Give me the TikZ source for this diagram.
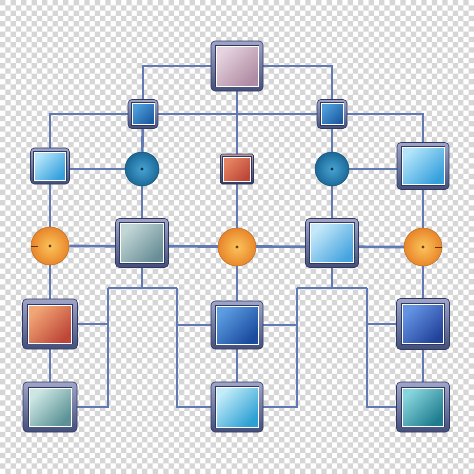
\documentclass[tikz,border=0pt]{standalone}
\pgfdeclarelayer{checker}
\pgfdeclarelayer{wires}
\pgfsetlayers{checker,wires,main}
\definecolor{wire}{RGB}{98,122,180}
\definecolor{chk}{RGB}{214,214,214}
\definecolor{frameL}{RGB}{160,165,200}
\definecolor{frameD}{RGB}{66,78,122}
\definecolor{edge}{RGB}{46,56,96}
\definecolor{Tl}{HTML}{E6D3DF}\definecolor{Td}{HTML}{B08CA4}
\definecolor{Sl}{HTML}{4E9EDA}\definecolor{Sd}{HTML}{1D5CA3}
\definecolor{Al}{HTML}{B2E4FA}\definecolor{Ad}{HTML}{35A0DC}
\definecolor{Rl}{HTML}{E68462}\definecolor{Rd}{HTML}{BD4637}
\definecolor{Bl}{HTML}{C2D6D6}\definecolor{Bd}{HTML}{678E96}
\definecolor{Fl}{HTML}{C4E8F9}\definecolor{Fd}{HTML}{45A4E0}
\definecolor{Dl}{HTML}{F2A675}\definecolor{Dd}{HTML}{BE4638}
\definecolor{Gl}{HTML}{5C9CE2}\definecolor{Gd}{HTML}{1A4B9E}
\definecolor{Hl}{HTML}{6493E4}\definecolor{Hd}{HTML}{22429A}
\definecolor{Il}{HTML}{CDE8E4}\definecolor{Id}{HTML}{5C9296}
\definecolor{Jl}{HTML}{C2ECF9}\definecolor{Jd}{HTML}{2CA0D4}
\definecolor{Kl}{HTML}{86D4DC}\definecolor{Kd}{HTML}{1D7C8E}
\definecolor{ob}{HTML}{FBC45C}\definecolor{oo}{HTML}{E8862A}
\definecolor{bb}{HTML}{46A4D2}\definecolor{bo}{HTML}{1B6898}
\tikzset{
  dev/.style n args={5}{draw=edge, line width=0.6pt, rounded corners=4pt,
    minimum width=#1, minimum height=#2, inner sep=0pt,
    top color=frameL, bottom color=frameD,
    path picture={
      \fill[edge, sharp corners]
        ([shift={(#3-1.2,-#3+1.2)}]path picture bounding box.north west) rectangle
        ([shift={(-#3+1.2,#3-1.2)}]path picture bounding box.south east);
      \path[sharp corners, top color=#4, bottom color=#5, shading angle=45, draw=white, line width=0.7pt]
        ([shift={(#3,-#3)}]path picture bounding box.north west) rectangle
        ([shift={(-#3,#3)}]path picture bounding box.south east);
    }},
  ballnode/.style n args={3}{circle, minimum size=#1, inner sep=0pt,
    draw=#3!80!black, line width=0.5pt, inner color=#2, outer color=#3,
    path picture={\fill[#3!45!black] (path picture bounding box.center) circle (1.6pt);}},
  wireline/.style={draw=wire, line width=2.7pt},
  tick/.style={draw=oo!40!black, line width=0.6pt}
}
\begin{document}
\begin{tikzpicture}[x=1pt,y=1pt]
\useasboundingbox (0,0) rectangle (474,-474);
\begin{pgfonlayer}{checker}
  \fill[white] (0,0) rectangle (474,-474);
  \fill[chk] \foreach \i [evaluate=\i as \o using {int(mod(\i,2))}] in {0,...,89} {
      \foreach \j in {0,...,44} {
        ({\i*5.2667},{-(2*\j+\o)*5.2667}) rectangle ++(5.2667,-5.2667)
      }
    };
\end{pgfonlayer}

% row 0 / 1
\node[dev={52pt}{50pt}{5}{Tl}{Td}] (T) at (237,-66) {};
\node[dev={30pt}{29pt}{4}{Sl}{Sd}] (S1) at (143,-114) {};
\node[dev={30pt}{29pt}{4}{Sl}{Sd}] (S2) at (332,-114) {};
% row 2
\node[dev={39pt}{36pt}{4}{Al}{Ad}] (A1) at (50,-166) {};
\node[ballnode={34pt}{bb}{bo}] (C1) at (142,-169) {};
\node[dev={33pt}{30pt}{3}{Rl}{Rd}, top color=Rl!40!frameL, bottom color=edge, rounded corners=1.5pt] (R) at (237,-169) {};
\node[ballnode={34pt}{bb}{bo}] (C2) at (332,-169) {};
\node[dev={52pt}{47pt}{5}{Al}{Ad}] (A5) at (423,-166) {};
% row 3
\node[ballnode={38pt}{ob}{oo}] (O1) at (50,-246) {};
\node[dev={53pt}{49pt}{5}{Bl}{Bd}] (B2) at (142,-243) {};
\node[ballnode={38pt}{ob}{oo}] (O3) at (237,-247) {};
\node[dev={53pt}{49pt}{5}{Fl}{Fd}] (B4) at (332,-243) {};
\node[ballnode={38pt}{ob}{oo}] (O5) at (423,-247) {};
% row 4
\node[dev={55pt}{50pt}{6}{Dl}{Dd}] (D1) at (50,-324) {};
\node[dev={52pt}{48pt}{5}{Gl}{Gd}] (D3) at (237,-325) {};
\node[dev={53pt}{51pt}{6}{Hl}{Hd}] (D5) at (423,-324) {};
% row 5
\node[dev={54pt}{50pt}{6}{Il}{Id}] (E1) at (50,-407) {};
\node[dev={52pt}{50pt}{5}{Jl}{Jd}] (E3) at (237,-407) {};
\node[dev={53pt}{50pt}{6}{Kl}{Kd}] (E5) at (423,-407) {};

\draw[tick] (O1.west) -- ++(7,0);
\draw[tick] (O5.east) -- ++(-7,0);

\coordinate (J1L) at (108,-288);
\coordinate (J1R) at (177,-288);
\coordinate (J2L) at (297,-288);
\coordinate (J2R) at (367,-288);

\begin{pgfonlayer}{wires}
  \draw[wireline] (T) -| (S1);
  \draw[wireline] (T) -| (S2);
  \draw[wireline] (A1) |- (S1) -- (S2) -| (A5);
  \draw[wireline] (T) -- (R);
  \draw[wireline] (S1) -- (C1);
  \draw[wireline] (S2) -- (C2);
  \draw[wireline] (A1 |- C1) -- (C1);
  \draw[wireline] (C2) -- (C2 -| A5);
  \draw[wireline] (A1) -- (O1);
  \draw[wireline] (C1) -- (B2);
  \draw[wireline] (R) -- (O3);
  \draw[wireline] (C2) -- (B4);
  \draw[wireline] (A5) -- (O5);
  \draw[wireline] (O1) -- (O5);
  \draw[wireline] (O1) -- (D1) -- (E1);
  \draw[wireline] (O3) -- (D3) -- (E3);
  \draw[wireline] (O5) -- (D5) -- (E5);
  \draw[wireline] (B2) -- (B2 |- J1L);
  \draw[wireline] (J1L) -- (J1R);
  \draw[wireline] (J1L) |- (E1);
  \draw[wireline] (J1L |- D1) -- (D1);
  \draw[wireline] (J1R) |- (E3);
  \draw[wireline] (J1R |- D3) -- (D3);
  \draw[wireline] (B4) -- (B4 |- J2L);
  \draw[wireline] (J2L) -- (J2R);
  \draw[wireline] (J2L) |- (E3);
  \draw[wireline] (J2L |- D3) -- (D3);
  \draw[wireline] (J2R) |- (E5);
  \draw[wireline] (J2R |- D5) -- (D5);
\end{pgfonlayer}
\end{tikzpicture}
\end{document}
